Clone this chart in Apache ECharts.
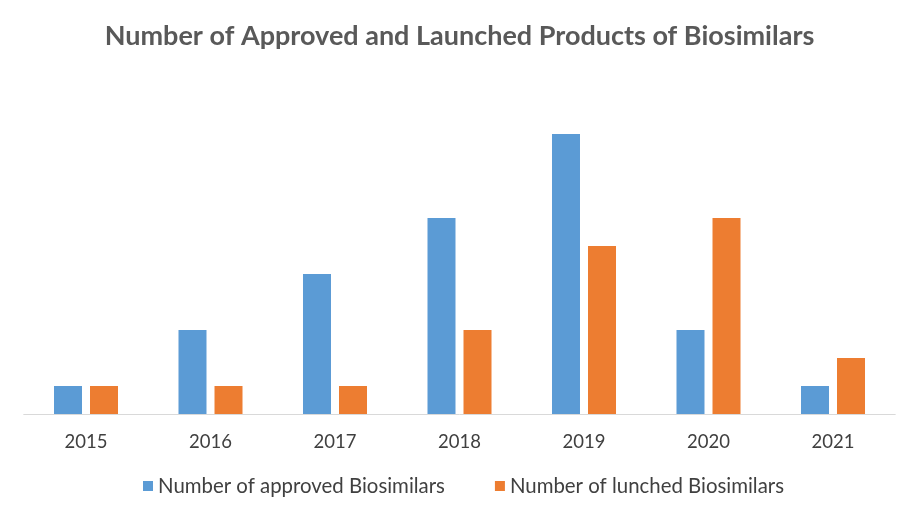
<!DOCTYPE html>
<html>
<head>
<meta charset="utf-8">
<script src="https://cdn.jsdelivr.net/npm/echarts@6/dist/echarts.min.js"></script>
<style>html,body{margin:0;padding:0;background:#fff}#c{width:919px;height:521px}</style>
</head>
<body>
<div id="c"></div>
<script>
const titleText = 'Number of Approved and Launched Products of Biosimilars';
const categories = ['2015', '2016', '2017', '2018', '2019', '2020', '2021'];
const approved = [1, 3, 5, 7, 10, 3, 1];
const launched = [1, 1, 1, 3, 6, 7, 2];
const seriesNames = ['Number of approved Biosimilars', 'Number of lunched Biosimilars'];

const chart = echarts.init(document.getElementById('c'));
chart.setOption({
  animation: false,
  backgroundColor: '#ffffff',
  title: {
    text: titleText,
    left: 'center',
    top: 18,
    textStyle: { fontFamily: 'Lato', fontSize: 27, fontWeight: 'bold', color: '#595959' }
  },
  legend: {
    data: seriesNames,
    left: 143,
    top: 476,
    padding: 0,
    itemWidth: 10,
    itemHeight: 10,
    itemGap: 50,
    icon: 'rect',
    textStyle: { fontFamily: 'Lato', fontSize: 20.4, color: '#404040' }
  },
  grid: { left: 23.75, right: 23.75, top: 106, bottom: 107, containLabel: false },
  xAxis: {
    type: 'category',
    data: categories,
    axisLine: { lineStyle: { color: '#d9d9d9', width: 1 } },
    axisTick: { show: false },
    axisLabel: { fontFamily: 'Lato', fontSize: 18.5, color: '#404040', margin: 19 }
  },
  yAxis: {
    type: 'value',
    min: 0,
    max: 11,
    show: false,
    splitLine: { show: false }
  },
  series: [
    { name: seriesNames[0], type: 'bar', data: approved, barWidth: 28, barGap: '28.6%', itemStyle: { color: '#5B9BD5' } },
    { name: seriesNames[1], type: 'bar', data: launched, barWidth: 28, itemStyle: { color: '#ED7D31' } }
  ]
});
</script>
</body>
</html>
